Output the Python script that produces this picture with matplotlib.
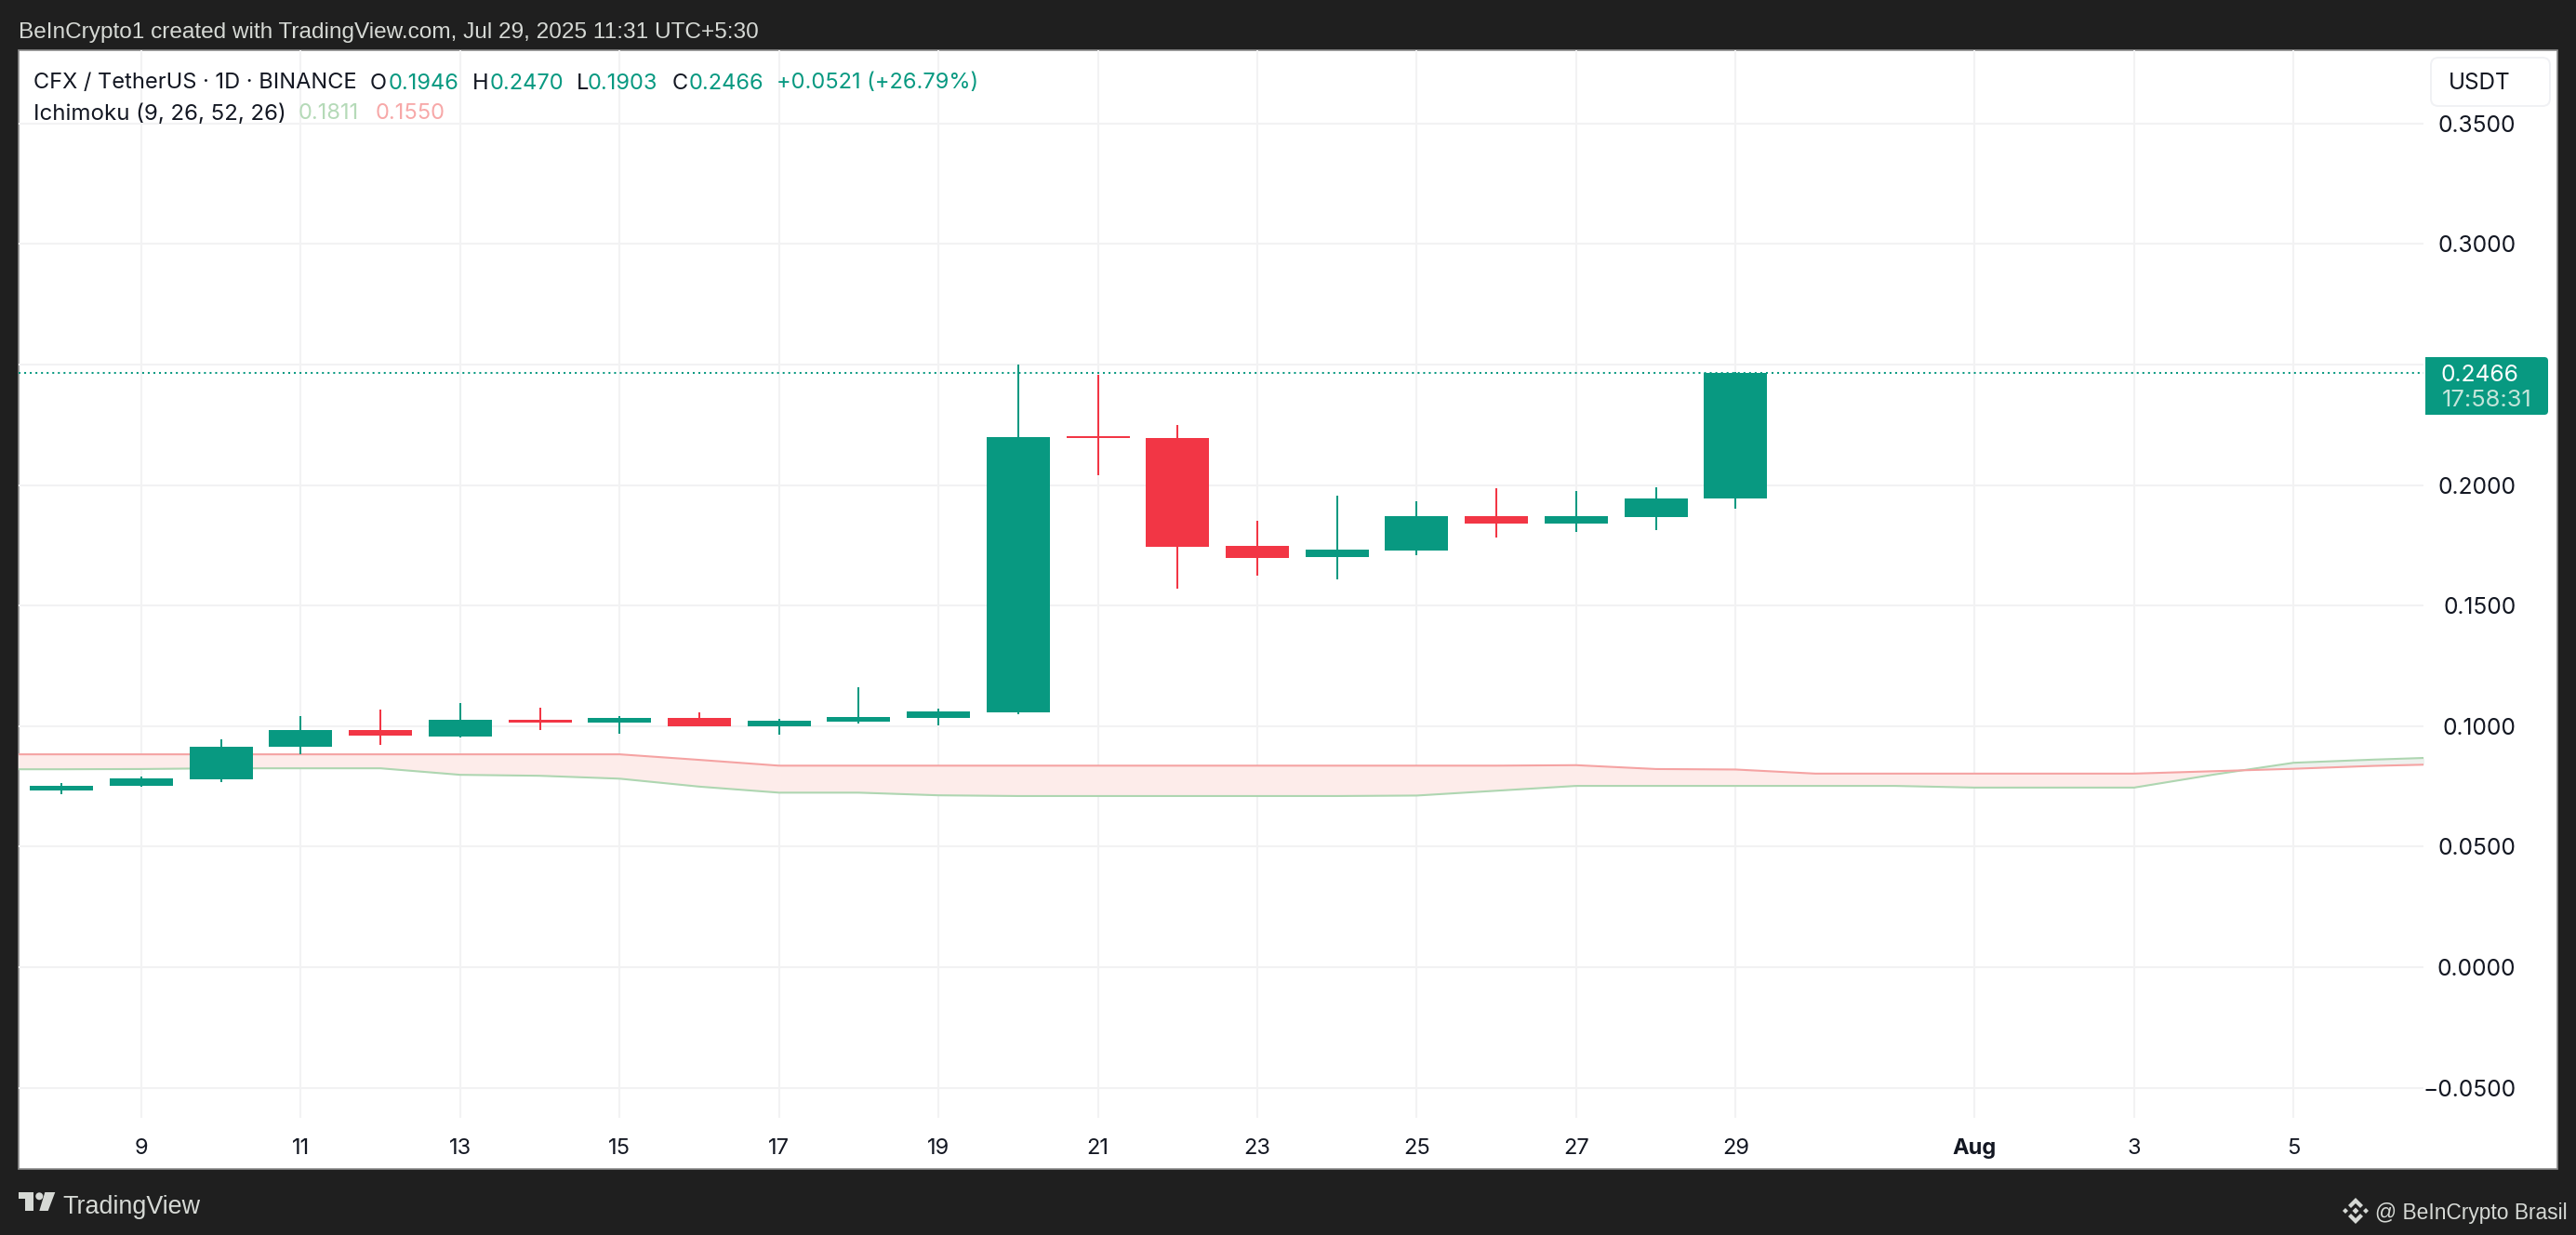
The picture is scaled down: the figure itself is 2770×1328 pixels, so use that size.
#!/usr/bin/env python3
"""CFX / USDT daily candles with the Ichimoku cloud, TradingView style."""

import matplotlib

matplotlib.use("Agg")
import matplotlib.pyplot as plt
from matplotlib.patches import Circle, FancyBboxPatch, Polygon, Rectangle
import numpy as np

# day numbers count from July 1 (32 = Aug 1)
days = [8, 9, 10, 11, 12, 13, 14, 15, 16, 17, 18, 19, 20, 21, 22, 23, 24, 25, 26, 27, 28, 29]
opens = [0.0732, 0.0751, 0.0778, 0.0914, 0.0983, 0.0956, 0.1026, 0.1014, 0.1034, 0.0999, 0.1018,
         0.1034, 0.1057, 0.2203, 0.2195, 0.1749, 0.1703, 0.1729, 0.1872, 0.1841, 0.1868, 0.1946]
highs = [0.0763, 0.0790, 0.0945, 0.1041, 0.1068, 0.1095, 0.1076, 0.1041, 0.1057, 0.1030, 0.1161,
         0.1072, 0.2499, 0.2456, 0.2249, 0.1853, 0.1956, 0.1933, 0.1987, 0.1976, 0.1991, 0.2470]
lows = [0.0716, 0.0747, 0.0767, 0.0883, 0.0921, 0.0952, 0.0983, 0.0968, 0.0999, 0.0964, 0.1010,
        0.1003, 0.1049, 0.2041, 0.1572, 0.1626, 0.1610, 0.1710, 0.1783, 0.1806, 0.1814, 0.1903]
closes = [0.0751, 0.0782, 0.0914, 0.0983, 0.0960, 0.1026, 0.1014, 0.1034, 0.0999, 0.1022, 0.1037,
          0.1061, 0.2199, 0.2195, 0.1745, 0.1699, 0.1733, 0.1872, 0.1841, 0.1872, 0.1945, 0.2466]

cloud_days = [7, 8, 9, 10, 11, 12, 13, 14, 15, 16, 17, 18, 19, 20, 21, 22, 23, 24, 25, 26, 27,
              28, 29, 30, 31, 32, 33, 34, 35, 36, 37, 38]
lead_a = [0.0821, 0.0821, 0.0822, 0.0825, 0.0825, 0.0825, 0.0798, 0.0794, 0.0782, 0.0749, 0.0724,
          0.0724, 0.0713, 0.0710, 0.0710, 0.0710, 0.0710, 0.0710, 0.0712, 0.0732, 0.0752,
          0.0752, 0.0752, 0.0752, 0.0752, 0.0745, 0.0745, 0.0745, 0.0799, 0.0848, 0.0861, 0.0872]
lead_b = [0.0883, 0.0883, 0.0883, 0.0883, 0.0883, 0.0883, 0.0883, 0.0883, 0.0883, 0.0860, 0.0836,
          0.0836, 0.0836, 0.0836, 0.0836, 0.0836, 0.0836, 0.0836, 0.0836, 0.0836, 0.0838,
          0.0822, 0.0820, 0.0803, 0.0803, 0.0803, 0.0803, 0.0803, 0.0813, 0.0823, 0.0835, 0.0843]

price_ticks = [-0.05, 0.0, 0.05, 0.10, 0.15, 0.20, 0.25, 0.30, 0.35]
date_ticks = [9, 11, 13, 15, 17, 19, 21, 23, 25, 27, 29, 32, 34, 36]
date_labels = ["9", "11", "13", "15", "17", "19", "21", "23", "25", "27", "29", "Aug", "3", "5"]
last_price = 0.2466

GREEN = "#089981"
RED = "#F23645"
DARK = "#1f1f1f"
INK = "#131722"
GRID = "#f2f2f3"
CHROME = "#d6d9d5"
W, H = 2770, 1328
BODY = "Inter"
HEAD = "Liberation Sans"


def last_tick():
    # tick nearest the last price, hidden by the badge
    return min(price_ticks, key=lambda p: abs(p - last_price))


def main():
    fig = plt.figure(figsize=(W / 100, H / 100), dpi=100, facecolor=DARK)

    # chrome behind everything: white pane with thin grey border
    back = fig.add_axes([0, 0, 1, 1], zorder=0)
    back.set_xlim(0, W)
    back.set_ylim(H, 0)
    back.axis("off")
    back.add_patch(Rectangle((20, 54), 2730, 1203, facecolor="white", edgecolor="#8c8c8c", lw=1.2))

    # price pane, 20..2606 x 54..1202 in pixels
    ax = fig.add_axes([20 / W, 1 - 1202 / H, 2586 / W, 1148 / H], zorder=1)
    ax.patch.set_alpha(0)
    ax.set_xlim(7.46, 37.63)
    ax.set_ylim(-0.0625, 0.3804)
    for s in ax.spines.values():
        s.set_visible(False)
    ax.set_axisbelow(True)
    ax.grid(True, color=GRID, lw=1.45)
    ax.yaxis.tick_right()
    ax.set_yticks(price_ticks)
    # the 0.2500 label sits behind the last price badge
    ax.set_yticklabels(["" if p == last_tick() else f"{p:.4f}".replace("-", "\u2212")
                        for p in price_ticks])
    ax.set_xticks(date_ticks)
    ax.set_xticklabels(date_labels)
    ax.tick_params(axis="x", length=0, pad=16, labelsize=17, labelcolor=INK)
    ax.tick_params(axis="y", length=0, pad=71.5, labelsize=17.7, labelcolor=INK)
    for lab in ax.get_yticklabels():
        lab.set_ha("right")
        lab.set_family(BODY)
    for lab in ax.get_xticklabels():
        lab.set_family(BODY)
        if lab.get_text() == "Aug":
            lab.set_fontweight("bold")

    # ichimoku cloud
    xc = np.array(cloud_days, dtype=float)
    a = np.array(lead_a)
    b = np.array(lead_b)
    ax.fill_between(xc, a, b, where=b >= a, interpolate=True, color="#fdecea", lw=0, zorder=2)
    ax.fill_between(xc, a, b, where=a >= b, interpolate=True, color="#eef1ee", lw=0, zorder=2)
    ax.plot(xc, a, color="#aed6b1", lw=1.5, zorder=3)
    ax.plot(xc, b, color="#f5a3a3", lw=1.5, zorder=3)

    # candles
    o = np.array(opens)
    c = np.array(closes)
    colors = [GREEN if cl >= op else RED for op, cl in zip(opens, closes)]
    ax.vlines(days, lows, highs, colors=colors, lw=1.45, zorder=4)
    ax.bar(days, np.abs(c - o), bottom=np.minimum(o, c), width=0.793, color=colors, lw=0, zorder=5)

    # last price line
    ax.axhline(last_price, color=GREEN, lw=1.45, linestyle=(0, (1, 2)), zorder=6)

    # everything else sits in pixel coordinates on top
    top = fig.add_axes([0, 0, 1, 1], zorder=2)
    top.set_xlim(0, W)
    top.set_ylim(H, 0)
    top.axis("off")

    def label(x, y, s, color=INK, size=17, family=BODY, **kw):
        top.text(x, y, s, color=color, fontsize=size, family=family, va="center_baseline", **kw)

    def shape(points):
        top.add_patch(Polygon(points, facecolor=CHROME, edgecolor="none"))

    label(20, 33, "BeInCrypto1 created with TradingView.com, Jul 29, 2025 11:31 UTC+5:30",
          color=CHROME, size=17.6, family=HEAD)

    label(36, 87, "CFX / TetherUS \u00b7 1D \u00b7 BINANCE", size=17)
    for x, s in [(398, "O"), (508, "H"), (620, "L"), (723, "C")]:
        label(x, 87, s, size=17)
    for x, s in [(418, "0.1946"), (527, "0.2470"), (632, "0.1903"), (741, "0.2466"),
                 (835, "+0.0521 (+26.79%)")]:
        label(x, 87, s, color=GREEN, size=17)
    label(36, 120, "Ichimoku (9, 26, 52, 26)", size=17.3)
    label(321, 120, "0.1811", color="#b5dab8", size=17)
    label(404, 120, "0.1550", color="#f7a8a8", size=17)

    # currency button
    top.add_patch(FancyBboxPatch((2614, 62), 128, 52, boxstyle="round,pad=0,rounding_size=8",
                                 facecolor="white", edgecolor="#f0f1f4", lw=1.4))
    label(2633, 87, "USDT", size=17.5)

    # last price badge
    top.add_patch(FancyBboxPatch((2608, 384), 132, 62, boxstyle="round,pad=0,rounding_size=4",
                                 facecolor=GREEN, edgecolor="none"))
    top.add_patch(Rectangle((2608, 384), 10, 62, facecolor=GREEN, edgecolor="none"))
    label(2625, 401, "0.2466", color="white", size=17.7)
    label(2626, 428, "17:58:31", color="#c4e5da", size=18.3)

    # TradingView logo
    shape([(19.5, 1282), (36, 1282), (36, 1302), (27.3, 1302), (27.3, 1289), (19.5, 1289)])
    top.add_patch(Circle((42.3, 1286.3), 4, facecolor=CHROME, edgecolor="none"))
    shape([(48.3, 1282), (59.3, 1282), (51.7, 1302), (42.3, 1302)])
    label(67, 1295, "TradingView", color=CHROME, size=19.4, family=HEAD)

    # Binance style mark next to the credit
    cx, cy = 2533, 1302
    for sign in (1, -1):
        shape([(cx, cy - 14 * sign), (cx + 8, cy - 6 * sign), (cx + 5, cy - 3 * sign),
               (cx, cy - 8 * sign), (cx - 5, cy - 3 * sign), (cx - 8, cy - 6 * sign)])
    for mx, r in [(cx - 11, 3), (cx + 11, 3), (cx, 3.5)]:
        shape([(mx, cy - r), (mx + r, cy), (mx, cy + r), (mx - r, cy)])
    label(2554, 1302, "@ BeInCrypto Brasil", color=CHROME, size=16.4, family=HEAD)

    fig.savefig("out.png", dpi=100, facecolor=DARK)


if __name__ == "__main__":
    main()
